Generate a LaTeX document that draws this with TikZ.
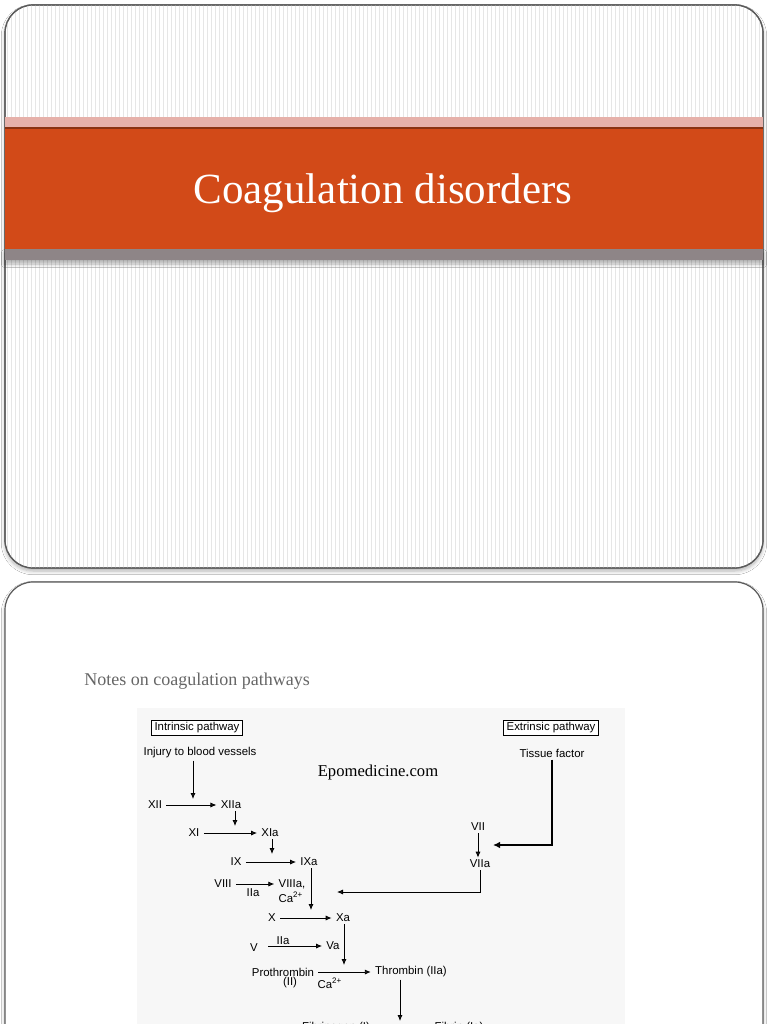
\documentclass[tikz,border=0pt]{standalone}
\usepackage{fontspec}
\setmainfont{Liberation Serif}
\newfontfamily\diagfont{Liberation Sans}
\usetikzlibrary{arrows.meta,shadows.blur}
\definecolor{bandorange}{HTML}{D24A18}
\definecolor{bandpink}{HTML}{E6B1AA}
\definecolor{bandgray}{HTML}{8E8587}
\definecolor{bandedge}{HTML}{8A3212}
\definecolor{stripe}{HTML}{E6E6E6}
\definecolor{slideedge}{HTML}{5A5A5A}
\definecolor{notegray}{HTML}{666666}
\definecolor{figbg}{HTML}{F7F7F7}

\begin{document}
\begin{tikzpicture}[x=0.5pt, y=-0.5pt,
  slide/.style={draw=slideedge, line width=0.6pt, rounded corners=14pt, fill=white, blur shadow={shadow xshift=0pt, shadow yshift=-1.5pt, shadow blur steps=6, shadow opacity=30}},
  lbl/.style={font=\diagfont\fontsize{5.7}{6.5}\selectfont, inner xsep=2pt, inner ysep=1pt},
  pbox/.style={lbl, draw, line width=0.45pt, inner xsep=1.6pt, minimum height=7pt, fill=white},
  arr/.style={-{Latex[length=3pt, width=2.6pt]}, line width=0.45pt},
  arrthick/.style={-{Latex[length=3.6pt, width=3.4pt]}, line width=1pt}
]
  \clip (0,0) rectangle (768,1024);
  \fill[white] (0,0) rectangle (768,1024);

  % title slide
  \draw[slide] (5,5) rectangle (763,568);
  \begin{scope}
    \clip[rounded corners=14pt] (5,5) rectangle (763,568);
    \foreach \sx in {7,11,...,763}
      \draw[stripe, line width=0.5pt] (\sx,5) -- (\sx,568);
  \end{scope}
  \draw[slideedge, line width=0.6pt, rounded corners=14pt] (5,5) rectangle (763,568);
  \fill[bandgray, blur shadow={shadow xshift=0pt, shadow yshift=-2pt, shadow blur steps=5, shadow opacity=30}] (5,249) rectangle (763,260);
  \fill[bandorange] (5,128) rectangle (763,249);
  \fill[bandpink] (5,117) rectangle (763,127);
  \draw[bandedge, line width=0.8pt] (5,128) -- (763,128);
  \node[font=\fontsize{21.5}{26}\selectfont, text=white, anchor=base] (title) at (383,203) {Coagulation disorders};

  % notes slide
  \draw[slide] (5,582) rectangle (763,1120);
  \node[font=\fontsize{9}{11}\selectfont, text=notegray, anchor=base west, inner sep=0pt] (notes) at (84,685) {Notes on coagulation pathways};
  \fill[figbg] (137,708) rectangle (625,1040);
  \node[font=\fontsize{8.3}{10}\selectfont, inner sep=0pt] (site) at (378,772) {Epomedicine.com};

  \node[pbox] (intr) at (197,728) {Intrinsic pathway};
  \node[lbl] (injury) at (200,753) {Injury to blood vessels};
  \node[lbl] (xii) at (155,805) {XII};
  \node[lbl] (xiia) at (231,805) {XIIa};
  \node[lbl] (xi) at (194,833) {XI};
  \node[lbl] (xia) at (270,833) {XIa};
  \node[lbl] (ix) at (236,862) {IX};
  \node[lbl] (ixa) at (309,862) {IXa};
  \node[lbl] (viii) at (223,884) {VIII};
  \node[lbl] (viiia) at (292,884) {VIIIa,};
  \node[lbl] (iia1) at (253,893) {IIa};
  \node[lbl] (ca1) at (291,897) {Ca\textsuperscript{2+}};
  \node[lbl] (x) at (272,918) {X};
  \node[lbl] (xa) at (343,918) {Xa};
  \node[lbl] (v) at (254,948) {V};
  \node[lbl] (iia2) at (283,941) {IIa};
  \node[lbl] (va) at (333,946) {Va};
  \node[lbl] (pro) at (283,972) {Prothrombin};
  \node[lbl] (proii) at (290,983) {(II)};
  \node[lbl] (ca2) at (330,983) {Ca\textsuperscript{2+}};
  \node[lbl] (thr) at (411,972) {Thrombin (IIa)};
  \node[lbl] (fib) at (336,1028) {Fibrinogen (I)};
  \node[lbl] (fibr) at (459,1028) {Fibrin (Ia)};

  \node[pbox] (extr) at (551,728) {Extrinsic pathway};
  \node[lbl] (tissue) at (552,753) {Tissue factor};
  \node[lbl] (vii) at (478,827) {VII};
  \node[lbl] (viia) at (480,864) {VIIa};

  \coordinate (k0) at (193,799);
  \coordinate (k1) at (235,826);
  \coordinate (k2) at (272,854);
  \coordinate (k3) at (311,910);
  \coordinate (k4) at (337,892);
  \coordinate (k5) at (344,965);
  \coordinate (k6) at (400,1021);
  \coordinate (k7) at (493,845);

  \draw[arr] (injury.south -| k0) -- (k0);
  \draw[arr] (xii) -- (xiia);
  \draw[arr] (xiia.south -| k1) -- (k1);
  \draw[arr] (xi) -- (xia);
  \draw[arr] (xia.south -| k2) -- (k2);
  \draw[arr] (ix) -- (ixa);
  \draw[arr] (viii) -- (viiia);
  \draw[arr] (ixa.south -| k3) -- (k3);
  \draw[arr] (viia.south) |- (k4);
  \draw[arr] (x) -- (xa);
  \draw[arr] (xa.south -| k5) -- (k5);
  \draw[arr, shorten <=3pt] (v.east |- va) -- (va);
  \draw[arr] (pro) -- (thr);
  \draw[arr] (thr.south -| k6) -- (k6);
  \draw[arr] (fib) -- (fibr);
  \draw[arrthick] (tissue.south) |- (k7);
  \draw[arr] (vii) -- (vii |- viia.north);
\end{tikzpicture}
\end{document}
